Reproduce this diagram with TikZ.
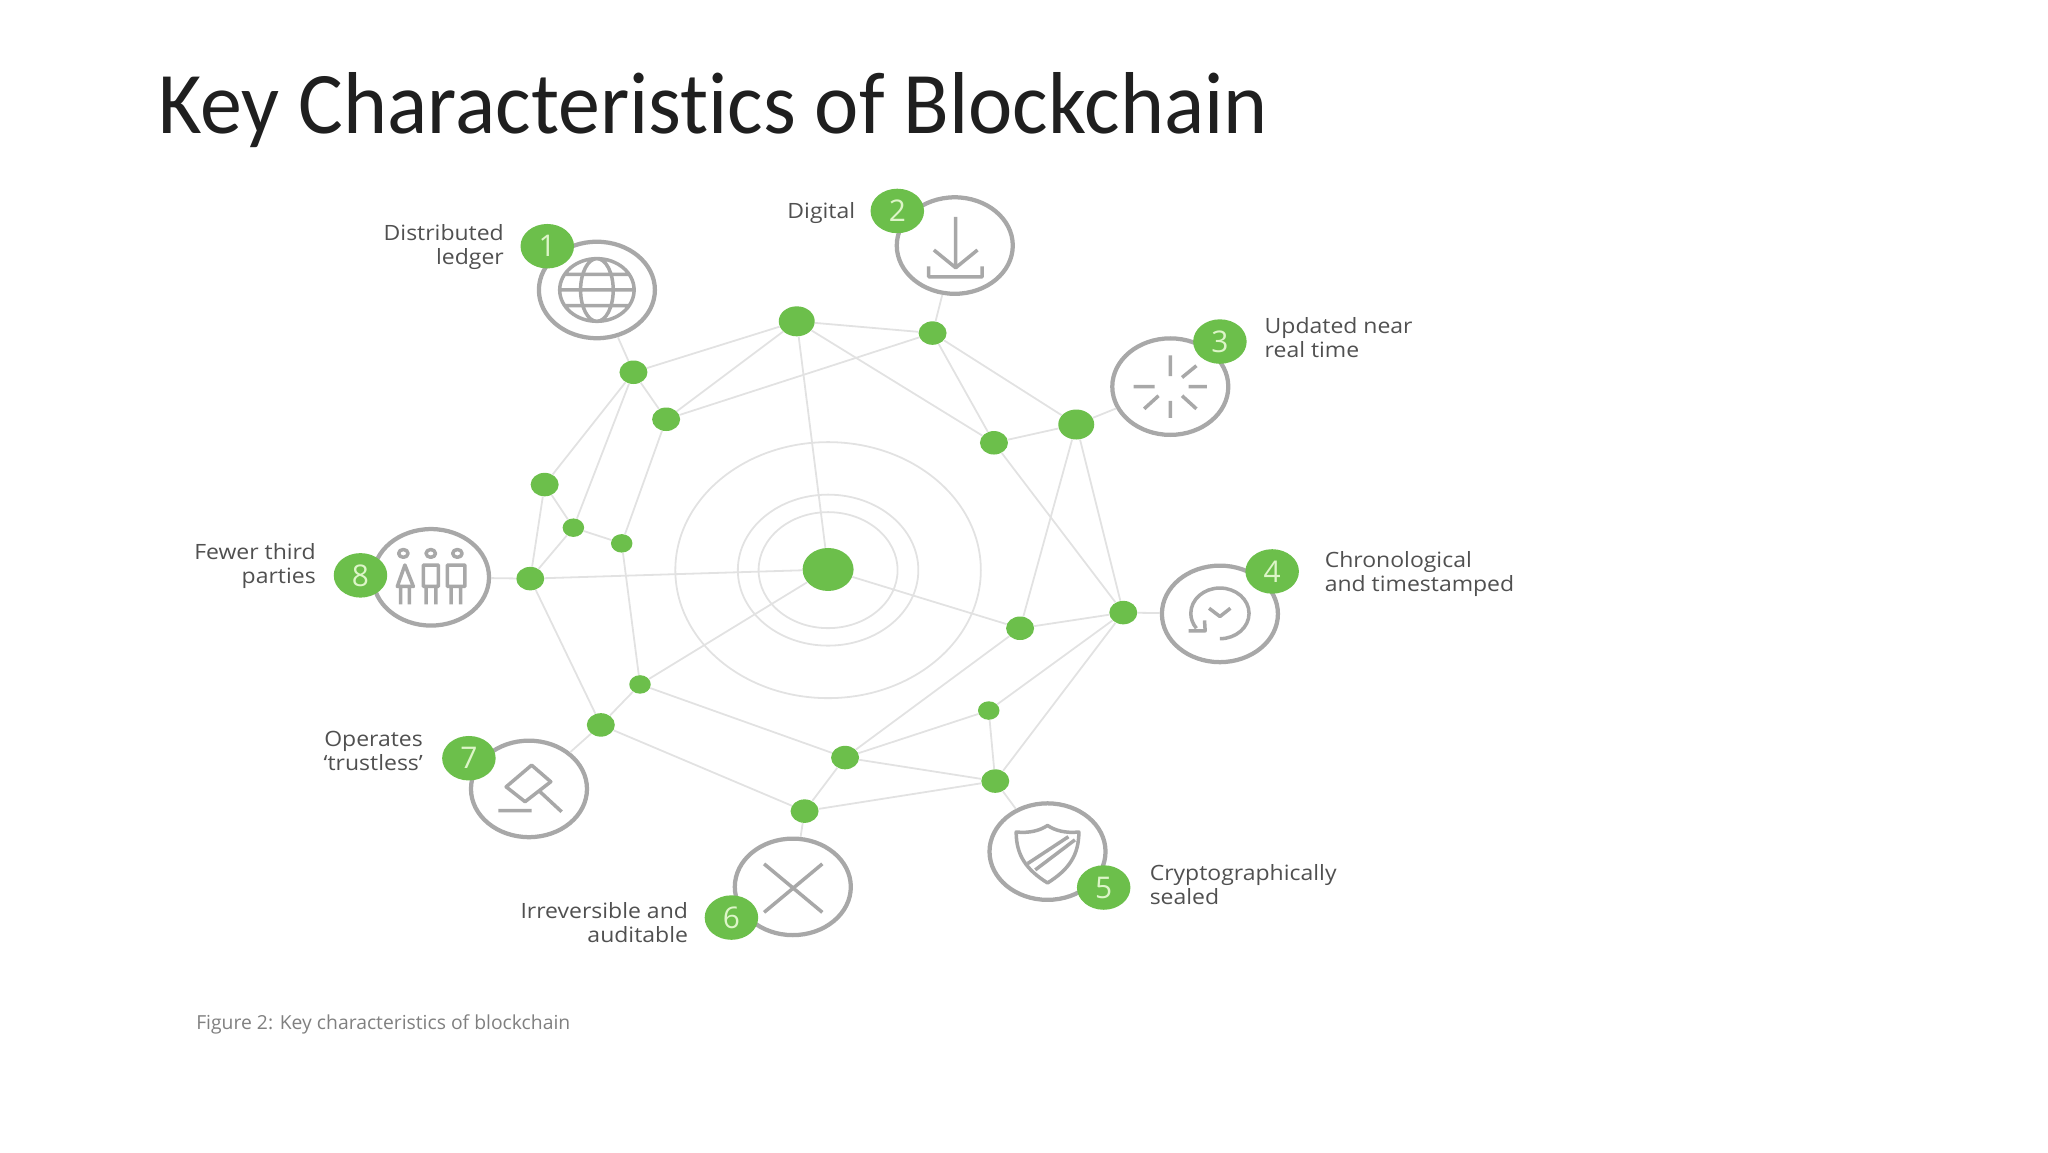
\documentclass[tikz,border=0pt]{standalone}
\usepackage{xcolor}
\usepackage{fontspec}
\setmainfont{Open Sans}
\newfontfamily\titlefont[Ligatures=NoCommon,FakeStretch=0.955]{Carlito}
\newfontfamily\wordfont[FakeStretch=1.09]{Open Sans}
\usetikzlibrary{shapes.geometric}
\definecolor{leaf}{HTML}{6CBF4B}
\definecolor{leaftext}{HTML}{DDF5C8}
\definecolor{ringgray}{HTML}{A8A8A8}
\definecolor{linkgray}{HTML}{E2E2E2}
\definecolor{wordgray}{HTML}{505050}

\begin{document}
\begin{tikzpicture}[x=0.26122mm,y=-0.26122mm,line join=round,
    every edge/.style={draw=linkgray,line width=0.36mm},
    dot/.style={ellipse,fill=leaf,inner sep=0,minimum width=5.6mm,minimum height=4.7mm},
    bigdot/.style={dot,minimum width=7.2mm,minimum height=6mm},
    tinydot/.style={dot,minimum width=4.3mm,minimum height=3.7mm},
    hub/.style={dot,minimum width=10.2mm,minimum height=8.6mm},
    halo/.style={ellipse,draw=linkgray,line width=0.36mm,inner sep=0},
    icon/.style={ellipse,draw=ringgray,line width=0.85mm,fill=white,inner sep=0,minimum width=23.2mm,minimum height=19.3mm},
    badge/.style={ellipse,fill=leaf,text=leaftext,inner sep=0,minimum width=10.7mm,minimum height=8.9mm,font=\fontsize{17}{17}\selectfont},
    word/.style={text=wordgray,inner sep=0,font=\wordfont\fontsize{12}{13.7}\selectfont},
    glyph/.style={draw=ringgray,line width=0.7mm}]

  \useasboundingbox (0,0) rectangle (1568,882);

  \node[anchor=base west,inner sep=0,text=black!88,font=\titlefont\fontsize{50}{50}\selectfont] (title) at (121,102) {Key Characteristics of Blockchain};

  \node[halo,minimum width=61.1mm,minimum height=51.2mm] (H1) at (634,436.5) {};
  \node[halo,minimum width=36.1mm,minimum height=30.2mm] (H2) at (634,436.5) {};
  \node[halo,minimum width=27.8mm,minimum height=23.2mm] (H3) at (634,436.5) {};

  \node[hub]     (Z) at (634,436) {};
  \node[dot]     (A) at (485,285) {};
  \node[dot]     (B) at (510,321) {};
  \node[bigdot]  (C) at (610,246) {};
  \node[dot]     (D) at (714,255) {};
  \node[dot]     (E) at (761,339) {};
  \node[bigdot]  (F) at (824,325) {};
  \node[dot]     (G) at (860,469) {};
  \node[dot]     (H) at (781,481) {};
  \node[tinydot] (J) at (757,544) {};
  \node[dot]     (K) at (762,598) {};
  \node[dot]     (L) at (647,580) {};
  \node[dot]     (M) at (616,621) {};
  \node[tinydot] (N) at (490,524) {};
  \node[dot]     (O) at (460,555) {};
  \node[dot]     (P) at (406,443) {};
  \node[dot]     (Q) at (417,371) {};
  \node[tinydot] (S) at (439,404) {};
  \node[tinydot] (T) at (476,416) {};

  \node[icon] (I1) at (457,222) {};
  \node[icon] (I2) at (731,188) {};
  \node[icon] (I3) at (896,296) {};
  \node[icon] (I4) at (934,470) {};
  \node[icon] (I5) at (802,652) {};
  \node[icon] (I6) at (607,679) {};
  \node[icon] (I7) at (405,604) {};
  \node[icon] (I8) at (330,442) {};

  \path (Z) edge (C)
            edge (P)
            edge (N)
            edge (H)
        (A) edge (I1)
            edge (C)
            edge (B)
            edge (Q)
            edge (S)
        (B) edge (C)
            edge (D)
            edge (T)
        (C) edge (D)
            edge (E)
        (D) edge (I2)
            edge (E)
            edge (F)
        (E) edge (F)
            edge (G)
        (F) edge (I3)
            edge (H)
            edge (G)
        (G) edge (I4)
            edge (H)
            edge (J)
            edge (K)
        (H) edge (L)
        (J) edge (L)
            edge (K)
        (K) edge (I5)
            edge (L)
            edge (M)
        (L) edge (M)
            edge (N)
        (M) edge (I6)
            edge (O)
        (N) edge (O)
            edge (T)
        (O) edge (I7)
            edge (P)
        (P) edge (I8)
            edge (Q)
            edge (S)
        (Q) edge (S)
        (S) edge (T);

  \node[badge] (N1) at (419,188.5) {1};
  \node[badge] (N2) at (687,161.5) {2};
  \node[badge] (N3) at (934,261.5) {3};
  \node[badge] (N4) at (974,437.5) {4};
  \node[badge] (N5) at (845,679.5) {5};
  \node[badge] (N6) at (560,702.5) {6};
  \node[badge] (N7) at (359,580.5) {7};
  \node[badge] (N8) at (276,440.5) {8};

  \node[word,anchor=east,align=right] (W1) at (386,189)   {Distributed\\ledger};
  \node[word,anchor=east]             (W2) at (655,163)   {Digital};
  \node[word,anchor=west,align=left]  (W3) at (968,258.5) {Updated near\\real time};
  \node[word,anchor=west,align=left]  (W4) at (1014,439.5){Chronological\\and timestamped};
  \node[word,anchor=west,align=left]  (W5) at (880,677.5) {Cryptographically\\sealed};
  \node[word,anchor=east,align=right] (W6) at (527,706)   {Irreversible and\\auditable};
  \node[word,anchor=east,align=right] (W7) at (324,575)   {Operates\\‘trustless’};
  \node[word,anchor=east,align=right] (W8) at (242,433)   {Fewer third\\parties};
  \node[word,anchor=west,text=black!50,font=\fontsize{11}{13}\selectfont] (caption) at (150,784) {Figure 2: Key characteristics of blockchain};

  \draw[glyph] (457,222) ellipse [x radius=28.5,y radius=24]
               (457,222) ellipse [x radius=12.5,y radius=24]
               (428.5,222) -- (485.5,222)
               (432.3,210) -- (481.7,210)
               (432.3,234) -- (481.7,234);

  \draw[glyph] (731.7,166) -- (731.7,205)
               (715,191.4) -- (731.7,205) -- (748.4,191.4)
               (711,204) -- (711,212) -- (752,212) -- (752,204);

  \draw[glyph] (896,272) -- (896,288)
               (896,307) -- (896,320)
               (868,296) -- (884,296)
               (910,296) -- (924,296)
               (905,289) -- (916,280)
               (905,303) -- (916,313)
               (887,303) -- (876,313);

  \draw[glyph] (934,489) arc [start angle=90,end angle=-216,x radius=22.3,y radius=19.4]
               (925.7,465.7) -- (934,472) -- (942,465.7)
               (910,483) -- (922.7,483) -- (922.2,475);

  \draw[glyph] (778,637) .. controls (788,638) and (796,636) .. (802,632)
               .. controls (808,636) and (816,638) .. (826,637)
               .. controls (826,655) and (818,666) .. (802,676)
               .. controls (786,666) and (778,655) .. (778,637) -- cycle
               (787,661) -- (818,640.6)
               (792.6,666) -- (823,643);

  \draw[glyph] (585,661.4) -- (629.6,698.5)
               (629.6,661.4) -- (585,698.5);

  \draw[glyph] (407,585.8) -- (421.7,598.5) -- (402,613.8) -- (387.5,602.4) -- cycle
               (413.5,606.2) -- (430,621.5)
               (381.6,620.7) -- (407,620.7);

  \draw[glyph] (308.8,423.7) ellipse [x radius=3.6,y radius=3]
               (329.8,423.7) ellipse [x radius=3.6,y radius=3]
               (350.2,423.7) ellipse [x radius=3.6,y radius=3]
               (310,432.6) -- (304.2,449) -- (316.5,449) -- cycle
               (306.8,449) -- (306.8,462.7)
               (313.4,449) -- (313.4,462.7)
               (324.2,432.6) rectangle (335.6,449)
               (326.2,449) -- (326.2,462.7)
               (333.8,449) -- (333.8,462.7)
               (342.5,432.6) rectangle (356,449)
               (345.3,449) -- (345.3,462.7)
               (352.7,449) -- (352.7,462.7);
\end{tikzpicture}
\end{document}
